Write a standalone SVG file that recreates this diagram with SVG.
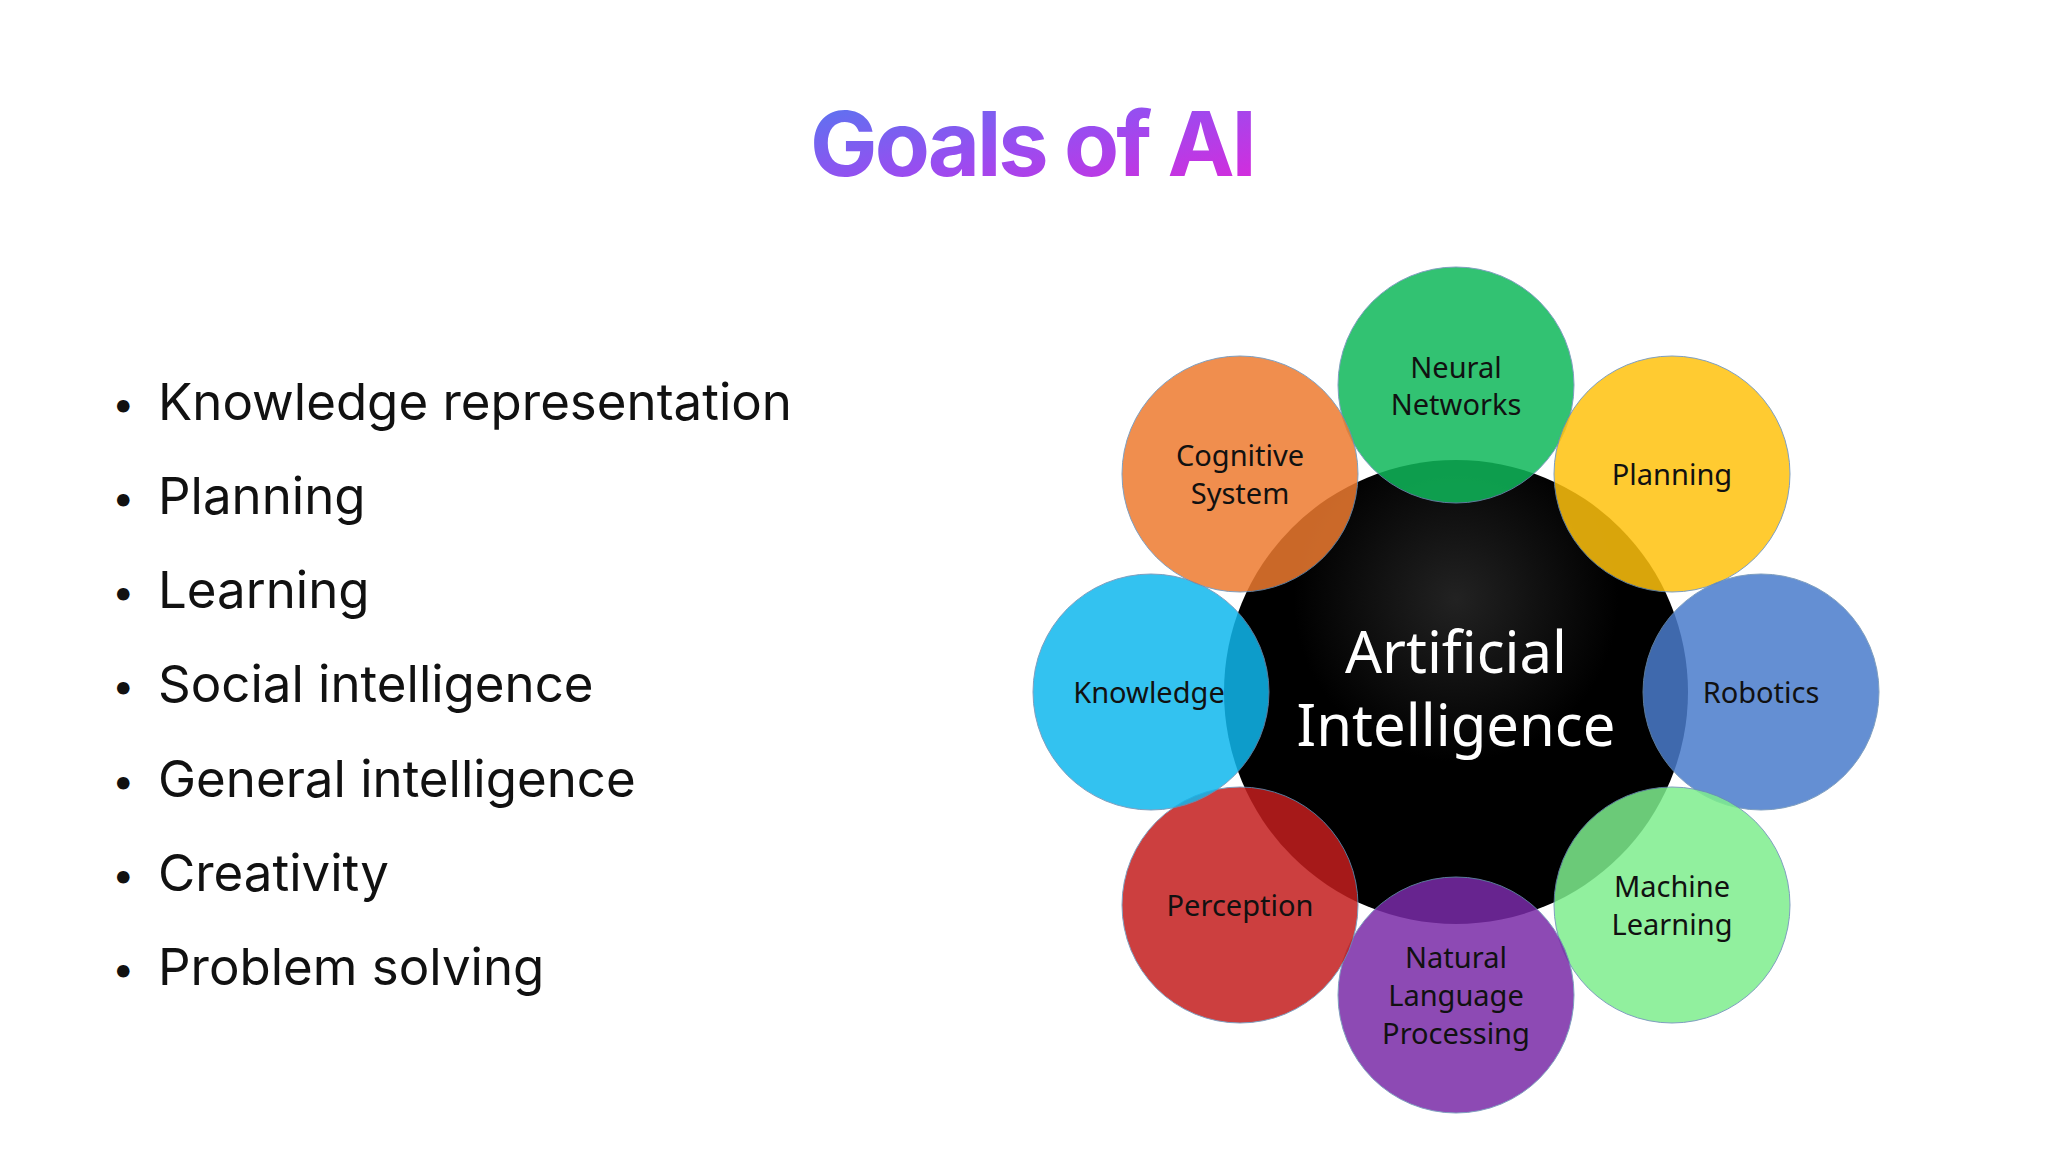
<svg xmlns="http://www.w3.org/2000/svg" width="2048" height="1152" viewBox="0 0 2048 1152">
<defs>
<linearGradient id="tg" x1="0" y1="0" x2="1" y2="1">
<stop offset="0" stop-color="#4f7bf0"/><stop offset="0.5" stop-color="#9a4cf0"/><stop offset="1" stop-color="#e025d8"/>
</linearGradient>
<radialGradient id="cg" cx="0.5" cy="0.3" r="0.7"><stop offset="0" stop-color="#222"/><stop offset="0.5" stop-color="#000"/></radialGradient>
</defs>
<style>
.b{font-family:Inter,"Noto Sans",sans-serif;font-size:51px;fill:#111}
.d{font-family:Inter,"Noto Sans",sans-serif;font-size:40px;fill:#111}
.p{font-family:"Noto Sans","Open Sans",sans-serif;font-size:29px;fill:#111;text-anchor:middle}
.c{font-family:"Noto Sans","Open Sans",sans-serif;font-size:58px;fill:#fff;text-anchor:middle}
.pet{opacity:0.85;stroke:#6a8fb5;stroke-width:1}
</style>
<rect width="2048" height="1152" fill="#fff"/>
<text x="1032" y="176" text-anchor="middle" font-family="Inter,'Noto Sans',sans-serif" font-weight="700" font-size="90" fill="url(#tg)" letter-spacing="-3">Goals of AI</text>
<g id="bullets">
<text class="d" x="112" y="418">•</text><text class="b" x="158" y="420">Knowledge representation</text>
<text class="d" x="112" y="512">•</text><text class="b" x="158" y="514">Planning</text>
<text class="d" x="112" y="606">•</text><text class="b" x="158" y="608">Learning</text>
<text class="d" x="112" y="700">•</text><text class="b" x="158" y="702">Social intelligence</text>
<text class="d" x="112" y="795">•</text><text class="b" x="158" y="797">General intelligence</text>
<text class="d" x="112" y="889">•</text><text class="b" x="158" y="891">Creativity</text>
<text class="d" x="112" y="983">•</text><text class="b" x="158" y="985">Problem solving</text>
</g>
<g id="center"><circle cx="1456" cy="692" r="232" fill="url(#cg)"/></g>
<g id="neural"><circle class="pet" cx="1456" cy="385" r="118" fill="#0fb85a"/><text class="p" x="1456" y="378">Neural</text><text class="p" x="1456" y="415">Networks</text></g>
<g id="planning"><circle class="pet" cx="1672" cy="474" r="118" fill="#ffc20e"/><text class="p" x="1672" y="485">Planning</text></g>
<g id="robotics"><circle class="pet" cx="1761" cy="692" r="118" fill="#4a7ccc"/><text class="p" x="1761" y="703">Robotics</text></g>
<g id="ml"><circle class="pet" cx="1672" cy="905" r="118" fill="#7eee8e"/><text class="p" x="1672" y="897">Machine</text><text class="p" x="1672" y="935">Learning</text></g>
<g id="nlp"><circle class="pet" cx="1456" cy="995" r="118" fill="#7a2ba8"/><text class="p" x="1456" y="968">Natural</text><text class="p" x="1456" y="1006">Language</text><text class="p" x="1456" y="1044">Processing</text></g>
<g id="perception"><circle class="pet" cx="1240" cy="905" r="118" fill="#c41e1e"/><text class="p" x="1240" y="916">Perception</text></g>
<g id="knowledge"><circle class="pet" cx="1151" cy="692" r="118" fill="#10b8ee"/><text class="p" x="1149" y="703">Knowledge</text></g>
<g id="cognitive"><circle class="pet" cx="1240" cy="474" r="118" fill="#ee7b30"/><text class="p" x="1240" y="466">Cognitive</text><text class="p" x="1240" y="504">System</text></g>
<g id="centertext"><text class="c" x="1456" y="673">Artificial</text><text class="c" x="1456" y="746">Intelligence</text></g>
</svg>
